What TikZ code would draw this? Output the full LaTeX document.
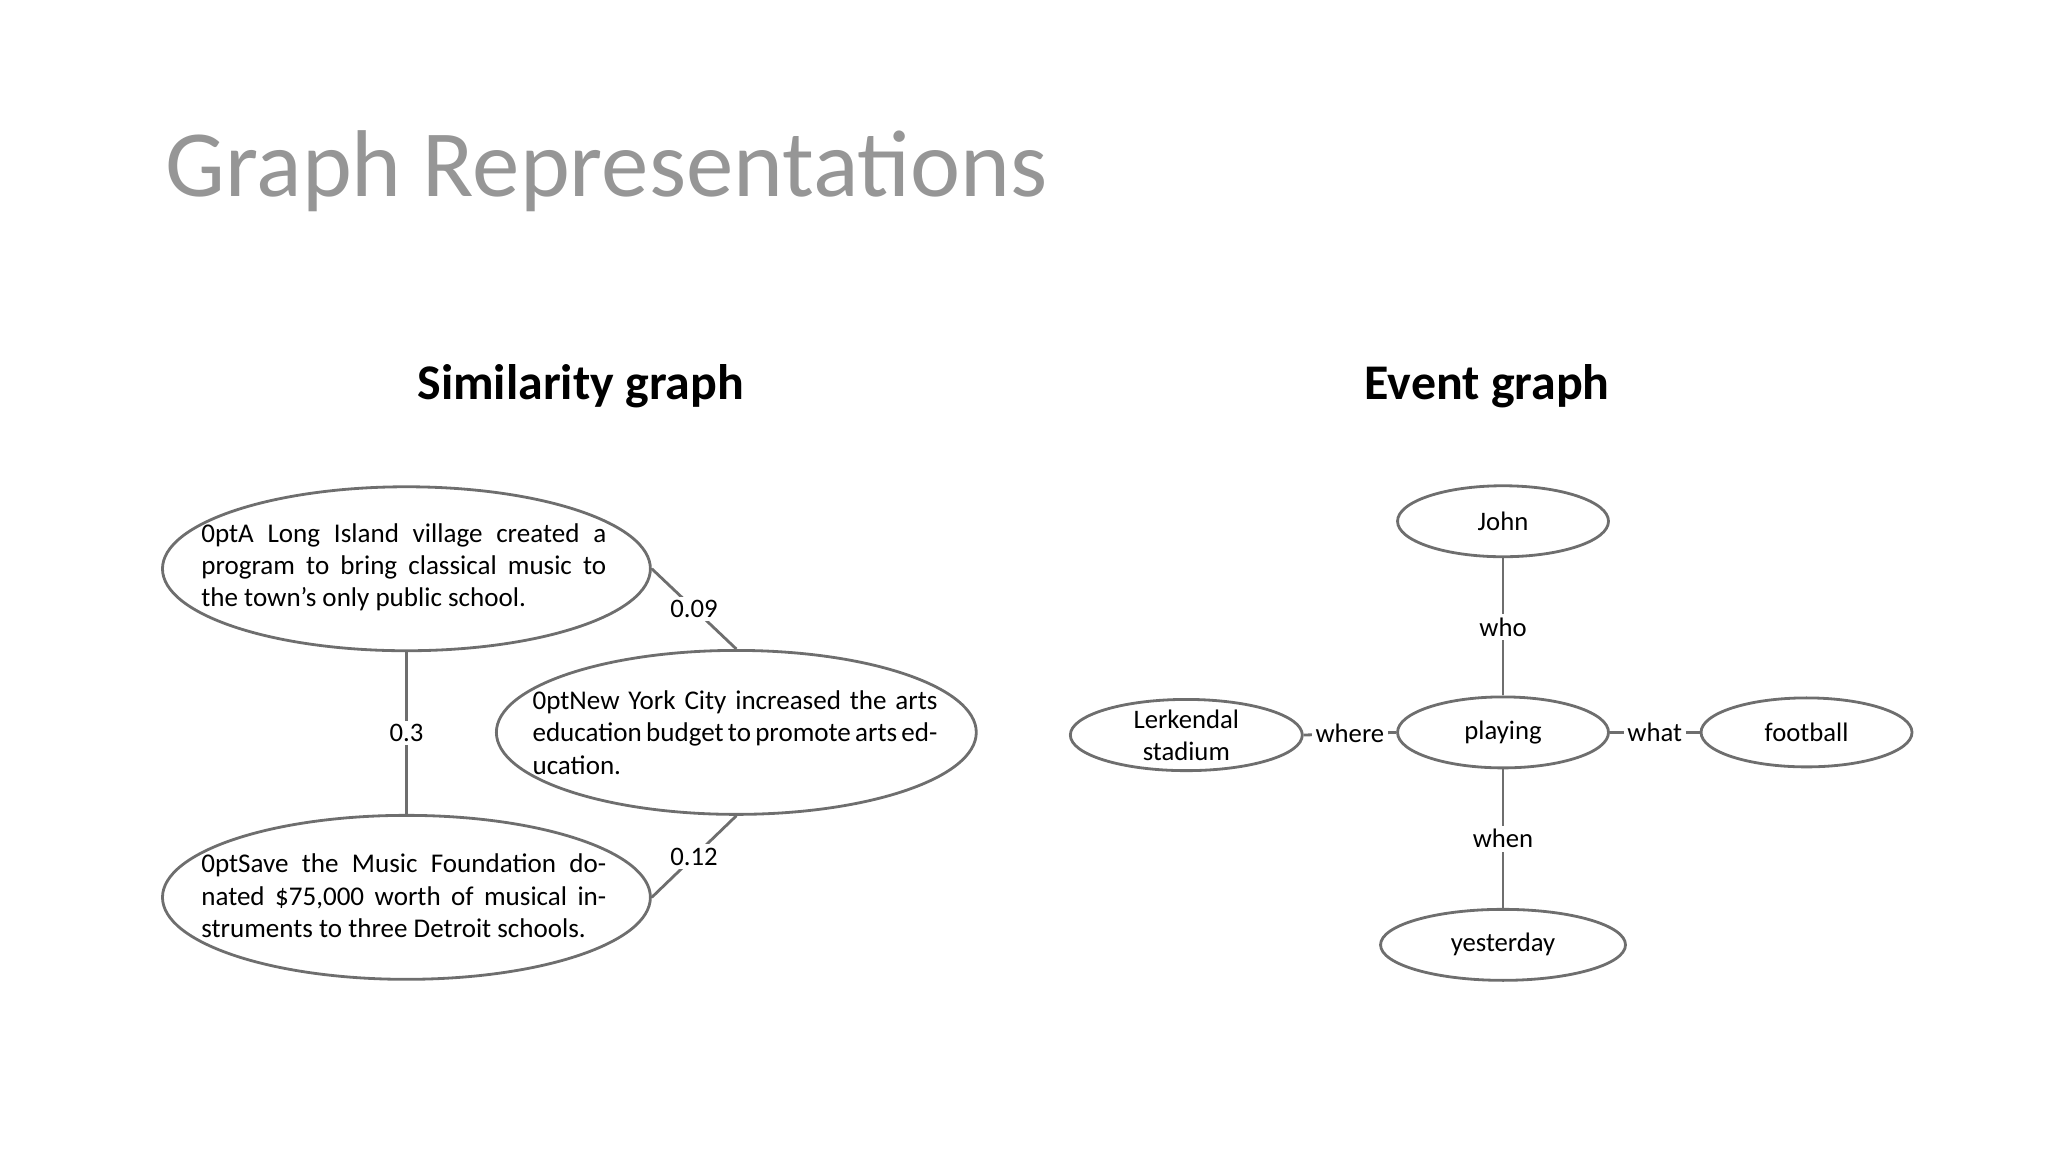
\documentclass[tikz,border=0pt]{standalone}
\usepackage{fontspec}
\setmainfont{Carlito}
\usetikzlibrary{positioning, shapes.geometric}
\definecolor{titlegray}{RGB}{150,150,150}
\definecolor{linegray}{RGB}{110,110,110}

\begin{document}
\begin{tikzpicture}[x=0.013196cm,y=-0.013196cm]
  \tikzset{EllStyle/.style = {
    shape         = ellipse,
    draw          = linegray,
    line width    = 0.8pt,
    inner sep     = 0pt
    }
  }
  \tikzset{TextStyle/.style = {
    text width    = 4.05cm,
    align         = justify,
    font          = \fontsize{7.7}{9.2}\selectfont\hyphenpenalty=10000\exhyphenpenalty=10000\emergencystretch=3em,
    inner sep     = 0pt
    }
  }
  \tikzset{EdgeStyle/.style = {
    draw          = linegray,
    line width    = 0.8pt
    }
  }
  \tikzset{EdgeLabelStyle/.style = {
    fill          = white,
    inner sep     = 1pt,
    font          = \fontsize{7.6}{9}\selectfont
    }
  }
  \useasboundingbox (0,0) rectangle (1552,873);

  \node[anchor=west, text=titlegray, font=\fontsize{27}{32}\selectfont] (title) at (116,130) {Graph Representations};
  \node[font=\fontsize{14.2}{17}\selectfont\bfseries] (simh) at (440,293) {Similarity graph};
  \node[font=\fontsize{14.2}{17}\selectfont\bfseries] (evh) at (1127,293) {Event graph};

  % similarity graph
  \node[EllStyle, minimum width=4.88cm, minimum height=1.64cm] (s1) at (308,431) {};
  \node[EllStyle, minimum width=4.80cm, minimum height=1.64cm] (s2) at (558,555) {};
  \node[EllStyle, minimum width=4.88cm, minimum height=1.64cm] (s3) at (308,680) {};
  \node[TextStyle] (t1) at (306,430) {A Long Island village created a program to bring classical music to the town's only public school.};
  \node[TextStyle] (t2) at (557,555) {New York City increased the arts education budget to promote arts education.};
  \node[TextStyle] (t3) at (306,679) {Save the Music Foundation donated \$75,000 worth of musical instruments to three Detroit schools.};
  \draw[EdgeStyle] (s1) to node[EdgeLabelStyle]{0.3} (s3);
  \draw[EdgeStyle] (s1.east) to node[EdgeLabelStyle]{0.09} (s2.north);
  \draw[EdgeStyle] (s2.south) to node[EdgeLabelStyle]{0.12} (s3.east);

  % event graph
  \begin{scope}[every node/.append style={font=\fontsize{7.6}{9}\selectfont}]
  \node[EllStyle, minimum width=2.11cm, minimum height=0.71cm] (john) at (1139,395) {John};
  \node[EllStyle, minimum width=2.11cm, minimum height=0.71cm] (play) at (1139,555) {playing};
  \node[EllStyle, minimum width=2.32cm, minimum height=0.66cm, align=center] (lerk) at (899,557) {Lerkendal\\stadium};
  \node[EllStyle, minimum width=2.11cm, minimum height=0.69cm] (foot) at (1369,555) {football};
  \node[EllStyle, minimum width=2.45cm, minimum height=0.71cm] (yest) at (1139,716) {yesterday};
  \end{scope}
  \draw[EdgeStyle] (john) to node[EdgeLabelStyle]{who} (play);
  \draw[EdgeStyle] (play) to node[EdgeLabelStyle]{when} (yest);
  \draw[EdgeStyle] (lerk.east) to node[EdgeLabelStyle]{where} (play.west);
  \draw[EdgeStyle] (play) to node[EdgeLabelStyle]{what} (foot);
\end{tikzpicture}
\end{document}
